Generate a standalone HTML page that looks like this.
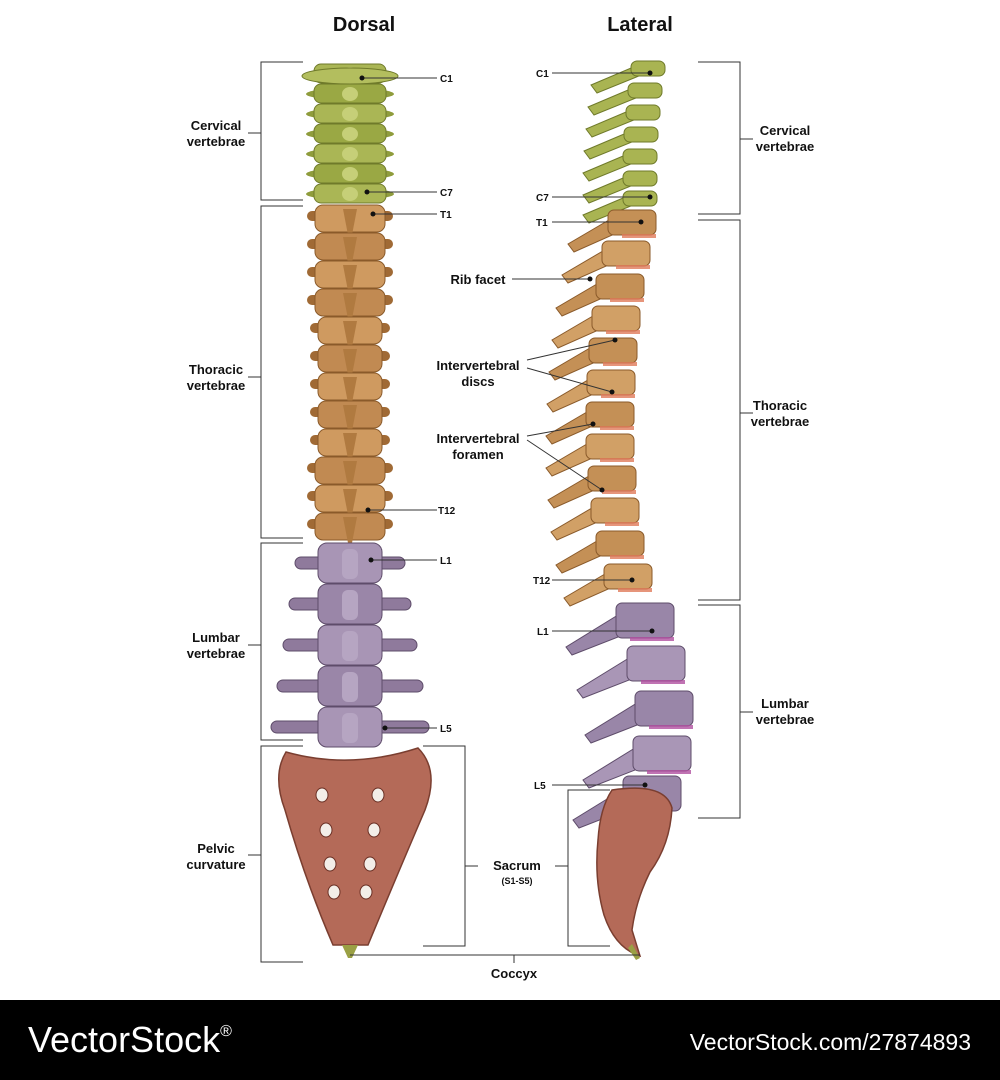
<!DOCTYPE html>
<html><head><meta charset="utf-8"><style>
html,body{margin:0;padding:0;background:#fff;width:1000px;height:1080px;overflow:hidden}
svg{display:block}
text{font-family:"Liberation Sans",sans-serif;font-weight:bold;fill:#111}
</style></head><body>
<svg id="s" width="1000" height="1080" viewBox="0 0 1000 1080">
<rect x="0" y="0" width="1000" height="1000" fill="#fff"/>
<g id="spine"></g>
<g stroke="#333" stroke-width="1" fill="none">
<path d="M303 62H261V200H303 M248 133H261"/>
<path d="M303 206H261V538H303 M248 377H261"/>
<path d="M303 543H261V740H303 M248 645H261"/>
<path d="M303 746H261V962H303 M248 855H261"/>
<path d="M423 746H465V946H423 M465 866H478"/>
<path d="M362 78H437 M367 192H437 M373 214H437 M368 510H437 M371 560H437 M385 728H437"/>
<path d="M698 62H740V214H698 M740 139H753"/>
<path d="M698 220H740V600H698 M740 413H753"/>
<path d="M698 605H740V818H698 M740 712H753"/>
<path d="M610 790H568V946H610 M555 866H568"/>
<path d="M552 73H650 M552 197H650 M552 222H641 M512 279H590 M527 360L615 340 M527 368L612 392 M527 436L593 424 M527 440L602 490 M552 580H632 M552 631H652 M552 785H645"/>
<path d="M350 955H640 M514 955V963"/>
</g>
<g fill="#111">
<circle cx="362" cy="78" r="2.5"/><circle cx="367" cy="192" r="2.5"/><circle cx="373" cy="214" r="2.5"/><circle cx="368" cy="510" r="2.5"/><circle cx="371" cy="560" r="2.5"/><circle cx="385" cy="728" r="2.5"/>
<circle cx="650" cy="73" r="2.5"/><circle cx="650" cy="197" r="2.5"/><circle cx="641" cy="222" r="2.5"/><circle cx="590" cy="279" r="2.5"/><circle cx="615" cy="340" r="2.5"/><circle cx="612" cy="392" r="2.5"/><circle cx="593" cy="424" r="2.5"/><circle cx="602" cy="490" r="2.5"/><circle cx="632" cy="580" r="2.5"/><circle cx="652" cy="631" r="2.5"/><circle cx="645" cy="785" r="2.5"/>
</g>
<text x="364" y="31" font-size="20" text-anchor="middle">Dorsal</text>
<text x="640" y="31" font-size="20" text-anchor="middle">Lateral</text>
<g font-size="13" text-anchor="middle">
<text x="216" y="130">Cervical</text><text x="216" y="146">vertebrae</text>
<text x="216" y="374">Thoracic</text><text x="216" y="390">vertebrae</text>
<text x="216" y="642">Lumbar</text><text x="216" y="658">vertebrae</text>
<text x="216" y="853">Pelvic</text><text x="216" y="869">curvature</text>
<text x="785" y="135">Cervical</text><text x="785" y="151">vertebrae</text>
<text x="780" y="410">Thoracic</text><text x="780" y="426">vertebrae</text>
<text x="785" y="708">Lumbar</text><text x="785" y="724">vertebrae</text>
<text x="478" y="284">Rib facet</text>
<text x="478" y="370">Intervertebral</text><text x="478" y="386">discs</text>
<text x="478" y="443">Intervertebral</text><text x="478" y="459">foramen</text>
<text x="517" y="870">Sacrum</text>
<text x="514" y="978">Coccyx</text>
</g>
<text x="517" y="884" font-size="9" text-anchor="middle">(S1-S5)</text>
<g font-size="10">
<text x="440" y="82">C1</text><text x="440" y="196">C7</text><text x="440" y="218">T1</text><text x="438" y="514">T12</text><text x="440" y="564">L1</text><text x="440" y="732">L5</text>
<text x="536" y="77">C1</text><text x="536" y="201">C7</text><text x="536" y="226">T1</text><text x="533" y="584">T12</text><text x="537" y="635">L1</text><text x="534" y="789">L5</text>
</g>
<rect x="0" y="1000" width="1000" height="80" fill="#000"/>
<text x="28" y="1052" font-size="36" style="fill:#fff;font-weight:normal">VectorStock<tspan font-size="16" dy="-16">®</tspan></text>
<text x="971" y="1050" font-size="23" text-anchor="end" style="fill:#fff;font-weight:normal">VectorStock.com/27874893</text>
</svg>
<script>
var g=document.getElementById('spine'),NS='http://www.w3.org/2000/svg';
function el(t,a){var e=document.createElementNS(NS,t);for(var k in a)e.setAttribute(k,a[k]);g.appendChild(e);return e;}
for(var i=0;i<7;i++){var y=64+i*20;
 el('ellipse',{cx:350,cy:y+10,rx:44,ry:6,fill:'#8f9c3c'});
 el('rect',{x:314,y:y,width:72,height:19,rx:7,fill:i%2?'#9aa844':'#aab655',stroke:'#6f7a2a','stroke-width':1});
 el('ellipse',{cx:350,cy:y+10,rx:8,ry:7,fill:'#c6cf78'});}
el('ellipse',{cx:350,cy:76,rx:48,ry:8,fill:'#b3be5e',stroke:'#6f7a2a'});
for(i=0;i<12;i++){var y=205+i*28,w=70-(i>3&&i<9?6:0);
 el('rect',{x:350-w/2-8,y:y+6,width:w+16,height:10,rx:5,fill:'#a06a35'});
 el('rect',{x:350-w/2,y:y,width:w,height:27,rx:8,fill:i%2?'#c18a52':'#cf9a60',stroke:'#8a5a2a','stroke-width':1});
 el('path',{d:'M343 '+(y+4)+' L357 '+(y+4)+' L352 '+(y+30)+' L348 '+(y+30)+'Z',fill:'#b07a40'});}
for(i=0;i<5;i++){var y=543+i*41,ext=40+i*6;
 el('rect',{x:350-ext-15,y:y+14,width:2*ext+30,height:12,rx:6,fill:'#8f7a9c',stroke:'#5e4c6a'});
 el('rect',{x:318,y:y,width:64,height:40,rx:9,fill:i%2?'#9a86a8':'#a895b5',stroke:'#5e4c6a'});
 el('rect',{x:342,y:y+6,width:16,height:30,rx:6,fill:'#b6a5c2'});}
el('path',{d:'M286 752 Q350 770 418 748 Q440 770 425 810 Q395 880 368 945 L333 945 Q305 880 285 810 Q272 775 286 752Z',fill:'#b46a58',stroke:'#7a3e30','stroke-width':1.5});
[[322,795],[378,795],[326,830],[374,830],[330,864],[370,864],[334,892],[366,892]].forEach(function(p){el('ellipse',{cx:p[0],cy:p[1],rx:6,ry:7,fill:'#f3eee8',stroke:'#6a3024'});});
el('path',{d:'M342 945 L358 945 L352 958 L348 958Z',fill:'#9aa044'});
var pts=[[648,70],[645,92],[643,114],[641,136],[640,158],[640,180],[640,200],
 [632,224],[626,255],[620,288],[616,320],[613,352],[611,384],[610,416],[610,448],[612,480],[615,512],[620,545],[628,578],
 [645,622],[656,665],[664,710],[662,755],[652,795]];
pts.forEach(function(p,i){var x=p[0],y=p[1],h,w,col,st;
 if(i<7){col='#a9b452';st='#6f7a2a';h=18;w=34;}
 else if(i<19){col=i%2?'#c49056':'#d1a066';st='#8a5a2a';h=28;w=48;}
 else{col=i%2?'#9986a8':'#a996b6';st='#5e4c6a';h=38;w=58;}
 el('path',{d:'M'+(x-w/2+6)+' '+(y-h/4)+' L'+(x-w/2-40-(i>18?10:0))+' '+(y+h/2+6)+' L'+(x-w/2-34-(i>18?10:0))+' '+(y+h/2+14)+' L'+(x-w/2+8)+' '+(y+h/3)+'Z',fill:col,stroke:st});
 el('rect',{x:x-w/2,y:y-h/2,width:w,height:h-3,rx:6,fill:col,stroke:st});
 if(i>=7&&i<23) el('rect',{x:x-w/2+14,y:y+h/2-4,width:w-14,height:4,fill:i<19?'#e07a5a':'#b050a0',opacity:0.8});
});
el('path',{d:'M612 790 Q665 782 672 808 Q670 845 650 872 Q636 900 632 930 L640 956 Q615 948 604 915 Q594 880 598 840 Q600 808 612 790Z',fill:'#b46a58',stroke:'#7a3e30','stroke-width':1.5});
el('path',{d:'M632 944 L640 958 L636 960 L628 948Z',fill:'#9aa044'});
</script>
</body></html>
